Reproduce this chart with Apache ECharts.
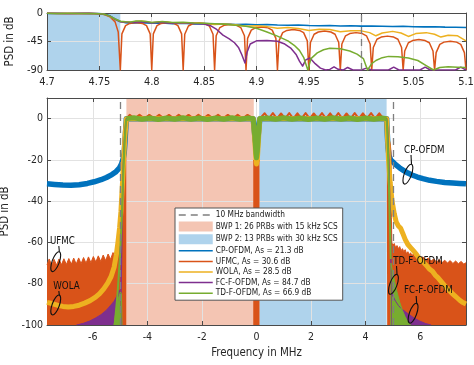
<!DOCTYPE html>
<html><head><meta charset="utf-8">
<script src="https://cdn.jsdelivr.net/npm/echarts@6/dist/echarts.min.js"></script>
<style>html,body{margin:0;padding:0;background:#fff}#c{width:474px;height:365px}</style>
</head><body><div id="c"></div>
<script>
// ================= DATA =================
const bandwidthName = '10 MHz bandwidth';
const bwp1Name = 'BWP 1: 26 PRBs with 15 kHz SCS';
const bwp2Name = 'BWP 2: 13 PRBs with 30 kHz SCS';
const cpName = 'CP-OFDM, As = 21.3 dB';
const ufmcName = 'UFMC, As = 30.6 dB';
const wolaName = 'WOLA, As = 28.5 dB';
const fcName = 'FC-F-OFDM, As = 84.7 dB';
const tdName = 'TD-F-OFDM, As = 66.9 dB';
const xAxisTitle = 'Frequency in MHz';
const yAxisTitle = 'PSD in dB';

const bandwidthEdges = [-5, 5];
const bwp1Range = [-4.77, -0.1];
const bwp2Range = [0.1, 4.77];

// main panel: frequency (MHz) / PSD (dB) pairs
const cpMain = [[-7.68,-31.6],[-7.4,-31.9],[-7.1,-32.2],[-6.8,-32.3],[-6.5,-32],[-6.2,-31.4],[-5.95,-30.6],[-5.7,-29.6],[-5.5,-28.5],[-5.3,-27.1],[-5.15,-25.7],[-5.03,-24],[-4.95,-22],[-4.89,-19.5],[-4.85,-16.5],[-4.82,-11],[-4.79,-4],[-4.77,0],[-0.12,0],[-0.05,-10],[0,-14],[0.05,-10],[0.12,0],[4.77,0],[4.79,-6],[4.82,-14],[4.86,-18],[4.92,-20],[5.0,-21],[5.1,-22.3],[5.25,-23.9],[5.4,-25.2],[5.55,-26.4],[5.7,-27.3],[5.9,-28.3],[6.1,-29.1],[6.35,-29.9],[6.6,-30.4],[6.9,-30.9],[7.2,-31.2],[7.45,-31.4],[7.68,-31.6]];

const ufmcLeftFill = [[-7.68,-70.8],[-7.6,-68],[-7.51,-71],[-7.42,-68.2],[-7.33,-71],[-7.24,-68],[-7.15,-70.8],[-7.06,-67.9],[-6.97,-70.7],[-6.88,-67.8],[-6.79,-70.6],[-6.7,-67.6],[-6.61,-70.5],[-6.52,-67.5],[-6.43,-70.3],[-6.34,-67.3],[-6.25,-70.1],[-6.16,-67],[-6.07,-69.8],[-5.98,-66.8],[-5.89,-69.5],[-5.8,-66.5],[-5.71,-69.2],[-5.62,-66.1],[-5.53,-68.8],[-5.44,-65.6],[-5.35,-68.2],[-5.26,-64.9],[-5.17,-67.4],[-5.08,-63.8],[-5.02,-60],[-4.97,-50],[-4.93,-35],[-4.89,-20],[-4.84,-9],[-4.8,-3],[-4.77,0]];
const ufmcBwp1 = [[-4.77,0],[-4.65,1.8],[-4.47,0],[-4.29,1.9],[-4.11,0],[-3.93,1.8],[-3.75,0],[-3.57,1.9],[-3.39,0],[-3.21,1.8],[-3.03,0],[-2.85,1.9],[-2.67,0],[-2.49,1.8],[-2.31,0],[-2.13,1.9],[-1.95,0],[-1.77,1.8],[-1.59,0],[-1.41,1.9],[-1.23,0],[-1.05,1.8],[-0.87,0],[-0.69,1.9],[-0.51,0],[-0.33,1.8],[-0.12,0]];
const ufmcCenter = [[-0.12,-20],[-0.08,-21],[0.08,-21],[0.11,-20]];
const ufmcBwp2 = [[0.12,0],[0.3,2.6],[0.45,0],[0.6,2.7],[0.75,0],[0.9,2.5],[1.05,0],[1.2,2.7],[1.35,0],[1.5,2.6],[1.65,0],[1.8,2.7],[1.95,0],[2.1,2.5],[2.25,0],[2.4,2.7],[2.55,0],[2.7,2.6],[2.85,0],[3.0,2.7],[3.15,0],[3.3,2.5],[3.45,0],[3.6,2.7],[3.75,0],[3.9,2.6],[4.05,0],[4.2,2.7],[4.35,0],[4.5,2.6],[4.65,0],[4.77,0]];
const ufmcRightFill = [[4.77,0],[4.79,-5],[4.84,-9],[4.9,-12],[4.93,-16],[4.945,-48],[4.96,-60],[5.0,-61.5],[5.05,-60.5],[5.1,-62.5],[5.15,-61.5],[5.2,-63],[5.25,-62],[5.3,-64],[5.35,-63],[5.4,-64.5],[5.45,-63.5],[5.5,-65.5],[5.55,-64.5],[5.6,-66],[5.65,-65],[5.7,-66.5],[5.75,-65.5],[5.8,-67],[5.85,-66],[5.9,-67.5],[5.95,-66.5],[6.0,-68],[6.1,-67],[6.2,-68.5],[6.3,-67.5],[6.4,-69],[6.5,-68],[6.6,-69.5],[6.7,-68.3],[6.8,-69.8],[6.9,-68.6],[7.0,-70],[7.1,-68.8],[7.2,-70.2],[7.3,-69],[7.4,-70.3],[7.5,-69.2],[7.6,-70.5],[7.68,-69.8]];

const wolaMain = [[-7.68,-89],[-7.5,-89.6],[-7.3,-90.4],[-7.1,-91],[-6.9,-91.3],[-6.7,-91],[-6.5,-90.4],[-6.3,-89.4],[-6.1,-88.2],[-5.9,-86.5],[-5.75,-84.8],[-5.6,-82.5],[-5.45,-79.6],[-5.33,-76.5],[-5.22,-72],[-5.14,-66],[-5.08,-60],[-5.02,-53],[-4.97,-45],[-4.92,-33],[-4.87,-20],[-4.82,-8],[-4.78,-2],[-4.77,0],[-0.12,0],[-0.06,-11],[-0.02,-20],[0,-22],[0.03,-20],[0.07,-11],[0.12,0],[4.77,0],[4.8,-9],[4.84,-20],[4.9,-31],[4.97,-40],[5.05,-46],[5.12,-50],[5.2,-52],[5.28,-53],[5.36,-55.5],[5.45,-58.5],[5.55,-61],[5.65,-62.5],[5.75,-64],[5.85,-65.5],[5.95,-67.5],[6.05,-69],[6.15,-70],[6.25,-71.5],[6.35,-73],[6.45,-74],[6.55,-75.8],[6.65,-77],[6.75,-78.6],[6.85,-80.2],[6.95,-81.8],[7.05,-83],[7.15,-84.4],[7.25,-85.6],[7.35,-86.8],[7.45,-88],[7.55,-89],[7.68,-89.8]];

const fcLeftFill = [[-6.6,-100],[-6.35,-99.2],[-6.1,-98],[-5.9,-96.6],[-5.7,-95],[-5.5,-92.8],[-5.35,-90.5],[-5.22,-88.5],[-5.12,-86],[-5.04,-83],[-4.97,-86],[-4.94,-100]];
const fcLine = [[-4.97,-86],[-4.93,-50],[-4.88,-22],[-4.83,-8],[-4.79,-2],[-4.77,0],[-0.12,0],[-0.05,-12],[0,-16],[0.05,-12],[0.12,0],[4.77,0],[4.8,-4],[4.85,-20],[4.9,-50],[4.95,-84]];
const fcRightFill = [[4.94,-100],[4.95,-84],[5.0,-86],[5.1,-88.5],[5.2,-90.5],[5.3,-92],[5.45,-93.5],[5.6,-95],[5.8,-96.8],[6.0,-98.2],[6.2,-99.3],[6.4,-100]];

const tdLeftFill = [[-5.22,-100],[-5.14,-92],[-5.06,-87],[-4.99,-84],[-4.95,-85],[-4.93,-100]];
const tdLeftEdge = [[-5.2,-100],[-5.1,-86],[-5.0,-66],[-4.93,-45],[-4.88,-25],[-4.83,-10],[-4.79,-2],[-4.77,0]];
const tdInband = [[-4.77,0],[-4.5,0.4],[-4.2,-0.3],[-3.9,0.3],[-3.6,-0.4],[-3.3,0.3],[-3.0,-0.3],[-2.7,0.4],[-2.4,-0.3],[-2.1,0.3],[-1.8,-0.4],[-1.5,0.3],[-1.2,-0.3],[-0.9,0.4],[-0.6,-0.3],[-0.3,0.3],[-0.12,0],[-0.06,-9],[-0.02,-17],[0,-19],[0.03,-16],[0.07,-8],[0.12,0],[0.4,0.3],[0.7,-0.3],[1.0,0.4],[1.3,-0.3],[1.6,0.3],[1.9,-0.4],[2.2,0.3],[2.5,-0.3],[2.8,0.4],[3.1,-0.3],[3.4,0.3],[3.7,-0.4],[4.0,0.3],[4.3,-0.3],[4.6,0.3],[4.77,0]];
const tdRightEdge = [[4.77,0],[4.8,-8],[4.84,-25],[4.88,-45],[4.92,-68]];
const tdRightFill = [[4.92,-100],[4.93,-70],[4.97,-73],[5.05,-78],[5.15,-84],[5.25,-89],[5.35,-93],[5.45,-96],[5.55,-98.5],[5.65,-100]];

// zoomed panel (4.7 - 5.1 MHz)
const cpTop = [[4.7,-0.6],[4.71,-0.4],[4.72,-0.7],[4.73,-0.5],[4.74,-0.6],[4.75,-0.9],[4.755,-1.8],[4.76,-4.5],[4.765,-9.5],[4.77,-13.5],[4.775,-15.5],[4.78,-16],[4.79,-15.2],[4.8,-16.3],[4.81,-15.8],[4.82,-16.8],[4.83,-16.2],[4.84,-17.2],[4.85,-16.8],[4.86,-17.6],[4.87,-17.2],[4.88,-18.2],[4.89,-17.8],[4.9,-18.6],[4.91,-18.2],[4.92,-19],[4.93,-19.3],[4.94,-19],[4.95,-19.8],[4.96,-20.2],[4.97,-19.8],[4.98,-20.5],[4.99,-20.2],[5.0,-20.8],[5.01,-20.5],[5.02,-21],[5.03,-21.3],[5.04,-21],[5.05,-21.6],[5.06,-21.9],[5.07,-21.6],[5.08,-22.3],[5.09,-22.6],[5.1,-23]];
const ufmcTop = [[4.7,-0.4],[4.72,-0.6],[4.74,-0.5],[4.75,-1],[4.755,-2.5],[4.76,-6],[4.765,-14],[4.768,-30],[4.77,-90],
 [4.7715,-33],[4.775,-20],[4.779,-16.5],[4.785,-15],[4.791,-16.5],[4.795,-20],[4.7985,-33],[4.8,-90],
 [4.8015,-33],[4.805,-20],[4.809,-16.5],[4.815,-15],[4.821,-16.5],[4.825,-20],[4.8285,-33],[4.83,-90],
 [4.8315,-33.5],[4.835,-20.5],[4.839,-17],[4.845,-15.5],[4.851,-17],[4.855,-20.5],[4.8585,-33.5],[4.86,-90],
 [4.8615,-36],[4.865,-23],[4.869,-19.5],[4.875,-18],[4.881,-19.5],[4.885,-23],[4.8885,-36],[4.89,-90],
 [4.8915,-40],[4.895,-27],[4.899,-23.5],[4.905,-22],[4.911,-23.5],[4.915,-27],[4.9185,-40],[4.92,-90],
 [4.9215,-44],[4.925,-31],[4.929,-27.5],[4.935,-26],[4.941,-27.5],[4.945,-31],[4.9485,-44],[4.95,-90],
 [4.9515,-46.5],[4.955,-33.5],[4.959,-30],[4.965,-28.5],[4.971,-30],[4.975,-33.5],[4.9785,-46.5],[4.98,-90],
 [4.9815,-49],[4.985,-36],[4.989,-32.5],[4.995,-31],[5.001,-32.5],[5.005,-36],[5.0085,-49],[5.01,-90],
 [5.0115,-54.5],[5.015,-41.5],[5.019,-38],[5.025,-36.5],[5.031,-38],[5.035,-41.5],[5.0385,-54.5],[5.04,-90],
 [5.0415,-60],[5.045,-47],[5.049,-43.5],[5.055,-42],[5.061,-43.5],[5.065,-47],[5.0685,-60],[5.07,-90],
 [5.0715,-62.5],[5.075,-49.5],[5.079,-46],[5.085,-44.5],[5.091,-46],[5.095,-49.5],[5.0985,-62.5],[5.1,-90]];
const wolaTop = [[4.7,-0.5],[4.71,-0.7],[4.72,-0.4],[4.73,-0.6],[4.74,-0.8],[4.75,-1.2],[4.755,-2.5],[4.76,-5.5],[4.765,-10],[4.77,-13.5],[4.775,-14.5],[4.78,-14.8],[4.785,-13.5],[4.79,-13],[4.795,-14],[4.8,-15.5],[4.805,-14.5],[4.81,-13.8],[4.815,-14.2],[4.82,-15.6],[4.83,-16.2],[4.84,-15.4],[4.85,-16.5],[4.86,-18.2],[4.87,-17.5],[4.88,-18.6],[4.89,-20.8],[4.9,-20.2],[4.91,-21.5],[4.92,-24],[4.93,-23],[4.94,-24.5],[4.95,-27.5],[4.96,-25.5],[4.97,-26],[4.98,-29.5],[4.99,-28],[5.0,-28.2],[5.008,-31],[5.014,-36],[5.02,-31.5],[5.03,-29],[5.038,-31.5],[5.045,-37],[5.052,-32.5],[5.062,-31],[5.07,-33.5],[5.076,-38],[5.083,-35],[5.092,-36],[5.1,-44]];
const fcTop = [[4.7,-0.5],[4.72,-0.6],[4.74,-0.5],[4.75,-1],[4.755,-2.2],[4.76,-5],[4.765,-10],[4.77,-13.8],[4.78,-15],[4.79,-14],[4.8,-15.5],[4.81,-14.6],[4.82,-16],[4.83,-15.5],[4.84,-16.5],[4.85,-17.5],[4.856,-20],[4.862,-26],[4.868,-35],[4.874,-41],[4.879,-47],[4.883,-55],[4.886,-66],[4.889,-79],[4.891,-62],[4.894,-49],[4.9,-44],[4.91,-43.5],[4.92,-44.5],[4.927,-49],[4.933,-56],[4.938,-66],[4.941,-76],[4.944,-84],[4.947,-74],[4.951,-71],[4.956,-80],[4.961,-87],[4.966,-90],[4.97,-89],[4.974,-85],[4.978,-89],[4.983,-90],[4.987,-86],[4.992,-90],[5.0,-90],[5.005,-87],[5.01,-90],[5.026,-90],[5.031,-85.5],[5.036,-90],[5.056,-90],[5.061,-85.5],[5.066,-90],[5.09,-90],[5.095,-85.5],[5.1,-90]];
const tdTop = [[4.7,-0.4],[4.71,-0.6],[4.72,-0.5],[4.73,-0.7],[4.74,-0.6],[4.75,-1],[4.755,-2],[4.76,-5],[4.765,-9.5],[4.77,-13],[4.775,-14],[4.78,-14.2],[4.785,-12.8],[4.79,-12.5],[4.795,-13.5],[4.8,-14.8],[4.81,-13.5],[4.82,-15],[4.83,-14.6],[4.84,-15.6],[4.85,-16.2],[4.86,-17],[4.87,-17.8],[4.88,-19.2],[4.89,-21],[4.9,-24],[4.91,-30],[4.92,-36.5],[4.93,-44],[4.936,-51],[4.941,-59],[4.945,-70],[4.949,-90],[4.952,-72],[4.958,-63],[4.964,-58],[4.97,-55.5],[4.98,-56.5],[4.989,-60],[4.996,-65],[5.002,-72],[5.006,-90],[5.01,-80],[5.014,-75],[5.02,-70.5],[5.026,-68.5],[5.035,-69],[5.045,-71],[5.054,-75],[5.062,-83],[5.069,-90],[5.075,-86],[5.083,-85],[5.092,-85.5],[5.1,-86]];

// annotations: label position (left/middle) and ellipse centre, in data units of the main panel
const annotations = [
  {text: 'CP-OFDM',   label: [5.41, -15.2], ellipse: [5.55, -26.9]},
  {text: 'UFMC',      label: [-7.57, -59.3], ellipse: [-7.36, -69.3]},
  {text: 'WOLA',      label: [-7.45, -81.1], ellipse: [-7.36, -90.3]},
  {text: 'TD-F-OFDM', label: [5.01, -69.0], ellipse: [5.02, -80.3]},
  {text: 'FC-F-OFDM', label: [5.41, -83.5], ellipse: [5.74, -94.3]}
];

// axes
const mainX = {min: -7.68, max: 7.68, splitNumber: 8};
const mainY = {min: -100, max: 10, interval: 20};
const topX = {min: 4.7, max: 5.1, interval: 0.05};
const topY = {min: -90, max: 0, interval: 45};

// ================= STYLE =================
function pickFont() {
  const ctx = document.createElement('canvas').getContext('2d');
  const sample = 'Frequency in MHz BWP 2: 13 PRBs with 30 kHz SCS';
  function measure(f) { ctx.font = '10px serif'; ctx.font = f; if (ctx.font === '10px serif') return -1; return ctx.measureText(sample).width; }
  const fams = ['Liberation Sans Narrow', 'DejaVu Sans Condensed', 'Roboto Condensed', 'Open Sans Condensed', 'Arial Narrow', 'Nimbus Sans Narrow'];
  for (const f of fams) {
    const a = measure('20px "' + f + '", monospace'), b = measure('20px monospace');
    if (a > 0 && Math.abs(a - b) > 1) return {fontFamily: '"' + f + '"', fontStyle: 'normal', ratio: a / 20 / sample.length};
  }
  for (const f of ['Open Sans', 'DejaVu Sans', 'Roboto', 'Noto Sans', 'Liberation Sans', 'Inter']) {
    const a = measure('condensed 20px "' + f + '"'), b = measure('20px "' + f + '"');
    if (a > 0 && b > 0 && a < b * 0.93) return {fontFamily: '"' + f + '"', fontStyle: 'condensed', ratio: a / 20 / sample.length};
  }
  const r = measure('20px Roboto');
  return {fontFamily: 'Roboto', fontStyle: 'normal', ratio: r / 20 / sample.length};
}
const FONT = pickFont();
// the reference face is a narrow one (about 0.43 em per character); shrink the
// size a little when the available face is wider, so text keeps its footprint
FONT.scale = Math.max(0.78, Math.min(1, 0.43 / FONT.ratio));
function fs(size) { return +(size * FONT.scale).toFixed(2); }
function txt(size, extra) {
  return Object.assign({fontFamily: FONT.fontFamily, fontStyle: FONT.fontStyle, fontSize: fs(size), color: '#262626'}, extra || {});
}

const C = {cp: '#0072BD', ufmc: '#D95319', wola: '#EDB120', fc: '#7E2F8E', td: '#77AC30', bwp1: '#F4C5B3', bwp2: '#AFD3EC', dash: '#7f7f7f'};
const AXIS = '#4a4a4a', GRIDC = '#e2e2e2';

const chart = echarts.init(document.getElementById('c'), null, {renderer: 'canvas'});

function xAxes(gridIndex, range, labelSize) {
  const base = Object.assign({type: 'value', gridIndex}, range);
  return [
    Object.assign({}, base, {
      position: 'bottom',
      axisLine: {show: true, onZero: false, lineStyle: {color: AXIS, width: 1}},
      axisTick: {show: true, inside: true, length: 4, lineStyle: {color: AXIS}},
      axisLabel: Object.assign(txt(labelSize), {margin: 7, showMinLabel: gridIndex === 0, showMaxLabel: gridIndex === 0}),
      splitLine: {show: true, lineStyle: {color: GRIDC, width: 1}}
    }),
    Object.assign({}, base, {
      position: 'top',
      axisLine: {show: true, onZero: false, lineStyle: {color: AXIS, width: 1}},
      axisTick: {show: true, inside: true, length: 4, lineStyle: {color: AXIS}},
      axisLabel: {show: false}, splitLine: {show: false}
    })
  ];
}
function yAxes(gridIndex, range, labelSize) {
  const base = Object.assign({type: 'value', gridIndex}, range);
  return [
    Object.assign({}, base, {
      position: 'left',
      axisLine: {show: true, onZero: false, lineStyle: {color: AXIS, width: 1}},
      axisTick: {show: true, inside: true, length: 4, lineStyle: {color: AXIS}},
      axisLabel: Object.assign(txt(labelSize), {margin: 4, showMaxLabel: gridIndex === 0}),
      splitLine: {show: true, lineStyle: {color: GRIDC, width: 1}},
      name: yAxisTitle, nameLocation: 'middle', nameGap: 21, nameRotate: 90, nameTextStyle: txt(13)
    }),
    Object.assign({}, base, {
      position: 'right',
      axisLine: {show: true, onZero: false, lineStyle: {color: AXIS, width: 1}},
      axisTick: {show: true, inside: true, length: 4, lineStyle: {color: AXIS}},
      axisLabel: {show: false}, splitLine: {show: false}
    })
  ];
}

function line(name, color, data, grid, width, fill) {
  const s = {
    name, type: 'line', data, xAxisIndex: grid * 2, yAxisIndex: grid * 2,
    symbol: 'none', showSymbol: false, silent: true, animation: false,
    itemStyle: {color}, lineStyle: {color, width, join: 'round'},
    emphasis: {disabled: true}, z: 2
  };
  if (fill) s.areaStyle = {color, opacity: 1, origin: 'start'};
  return s;
}
function region(name, color, range, grid, axisRange) {
  const a = Math.max(range[0], axisRange.min), b = Math.min(range[1], axisRange.max);
  return {
    name, type: 'line', data: [], xAxisIndex: grid * 2, yAxisIndex: grid * 2, symbol: 'none',
    itemStyle: {color}, lineStyle: {color}, silent: true, animation: false, z: -1,
    markArea: b > a ? {silent: true, z: -1, itemStyle: {color, opacity: 1}, data: [[{xAxis: a}, {xAxis: b}]]} : undefined
  };
}
function bandwidthMarks(grid, axisRange) {
  return {
    name: bandwidthName, type: 'line', data: [], xAxisIndex: grid * 2, yAxisIndex: grid * 2, symbol: 'none',
    itemStyle: {color: C.dash}, lineStyle: {color: C.dash, width: 1.3, type: [7, 5]}, silent: true, animation: false, z: 6,
    markLine: {
      silent: true, symbol: 'none', z: 6, label: {show: false}, animation: false,
      lineStyle: {color: C.dash, width: 1.3, type: [7, 5]},
      data: bandwidthEdges.filter(v => v > axisRange.min && v < axisRange.max).map(v => ({xAxis: v}))
    }
  };
}

const series = [
  // main panel
  region(bwp1Name, C.bwp1, bwp1Range, 1, mainX),
  region(bwp2Name, C.bwp2, bwp2Range, 1, mainX),
  line(cpName, C.cp, cpMain, 1, 5.5),
  line(ufmcName, C.ufmc, ufmcLeftFill, 1, 1, true),
  line(ufmcName, C.ufmc, ufmcRightFill, 1, 1, true),
  line(ufmcName, C.ufmc, ufmcCenter, 1, 1, true),
  line(ufmcName, C.ufmc, ufmcBwp1, 1, 2),
  line(ufmcName, C.ufmc, ufmcBwp2, 1, 2),
  line(wolaName, C.wola, wolaMain, 1, 5),
  line(fcName, C.fc, fcLeftFill, 1, 1, true),
  line(fcName, C.fc, fcRightFill, 1, 1, true),
  line(fcName, C.fc, fcLine, 1, 1.5),
  line(tdName, C.td, tdLeftFill, 1, 1, true),
  line(tdName, C.td, tdRightFill, 1, 1, true),
  line(tdName, C.td, tdLeftEdge, 1, 2),
  line(tdName, C.td, tdRightEdge, 1, 2),
  line(tdName, C.td, tdInband, 1, 5),
  bandwidthMarks(1, mainX),
  // zoomed panel
  region(bwp2Name, C.bwp2, bwp2Range, 0, topX),
  line(cpName, C.cp, cpTop, 0, 1.6),
  line(ufmcName, C.ufmc, ufmcTop, 0, 1.5),
  line(wolaName, C.wola, wolaTop, 0, 1.5),
  line(fcName, C.fc, fcTop, 0, 1.5),
  line(tdName, C.td, tdTop, 0, 1.5),
  bandwidthMarks(0, topX)
];

const legendData = [
  {name: bandwidthName},
  {name: bwp1Name, icon: 'rect', itemStyle: {color: C.bwp1, opacity: 1, borderWidth: 0}},
  {name: bwp2Name, icon: 'rect', itemStyle: {color: C.bwp2, opacity: 1, borderWidth: 0}},
  {name: cpName}, {name: ufmcName}, {name: wolaName}, {name: fcName}, {name: tdName}
];

chart.setOption({
  animation: false,
  backgroundColor: '#ffffff',
  textStyle: {fontFamily: FONT.fontFamily},
  grid: [
    {left: 47, top: 13, width: 419, height: 57, containLabel: false, outerBoundsMode: 'none'},
    {left: 47, top: 98, width: 419, height: 227, containLabel: false, outerBoundsMode: 'none'}
  ],
  xAxis: [].concat(xAxes(0, topX, 12.5), xAxes(1, mainX, 12)),
  yAxis: [].concat(yAxes(0, topY, 12.5), yAxes(1, mainY, 12)),
  legend: {
    show: true, orient: 'vertical', left: 175, top: 208,
    itemWidth: 34, itemHeight: 10, itemGap: 2.6,
    padding: [3, 5, 3, 3],
    backgroundColor: '#ffffff', borderColor: '#555', borderWidth: 1, borderRadius: 0,
    selectedMode: false,
    textStyle: txt(9.4, {color: '#1a1a1a', padding: [0, 0, 0, -2]}),
    itemStyle: {opacity: 0},
    lineStyle: {width: 1.5},
    data: legendData
  },
  series
});

// x-axis title and annotations, positioned through the main panel's axes
const graphics = [];
const finder = {xAxisIndex: 2, yAxisIndex: 2};
const axisMid = chart.convertToPixel(finder, [(mainX.min + mainX.max) / 2, mainY.min]);
graphics.push({type: 'text', x: axisMid[0], y: axisMid[1] + 28, silent: true, z: 50,
  style: {text: xAxisTitle, fontFamily: FONT.fontFamily, fontStyle: FONT.fontStyle, fontSize: fs(13), fill: '#262626', textAlign: 'center', textVerticalAlign: 'middle'}});
annotations.forEach(a => {
  const lp = chart.convertToPixel(finder, a.label);
  const ep = chart.convertToPixel(finder, a.ellipse);
  const rot = -0.35, ry = 10.5, rx = 3.6;
  const tip = [ep[0] + ry * Math.sin(-rot), ep[1] - ry * Math.cos(rot)];
  graphics.push({type: 'ellipse', x: ep[0], y: ep[1], rotation: rot, silent: true, z: 50,
    shape: {cx: 0, cy: 0, rx, ry}, style: {fill: 'none', stroke: '#111', lineWidth: 1.1}});
  graphics.push({type: 'line', silent: true, z: 50,
    shape: {x1: tip[0], y1: tip[1], x2: tip[0] - 0.5, y2: lp[1] + 5}, style: {stroke: '#111', lineWidth: 1.1}});
  graphics.push({type: 'text', x: lp[0], y: lp[1], silent: true, z: 50,
    style: {text: a.text, fontFamily: FONT.fontFamily, fontStyle: FONT.fontStyle, fontSize: fs(11), fill: '#111', textAlign: 'left', textVerticalAlign: 'middle'}});
});
chart.setOption({graphic: graphics});
</script>
</body></html>
